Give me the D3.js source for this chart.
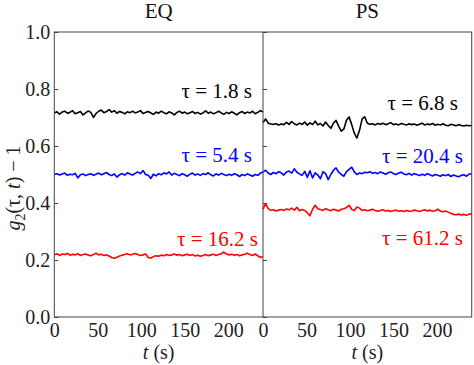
<!DOCTYPE html>
<html><head><meta charset="utf-8">
<script src="https://cdn.jsdelivr.net/npm/d3@7"></script>
<style>
body{margin:0;background:#fff;}
svg text{font-family:"Liberation Serif","Times New Roman",Times,"Nimbus Roman","DejaVu Serif","Noto Serif",serif !important;}
</style></head>
<body><svg id="c" width="474" height="365"></svg>
<script>
// ---- data ----
const panels = ["EQ", "PS"];
const xTicks = [0, 50, 100, 150, 200];
const yTicks = [0.0, 0.2, 0.4, 0.6, 0.8, 1.0];
const time = d3.range(0, 241, 3); // t (s), sample times

const eqBlack = [
0.716,0.720,0.712,0.719,0.722,0.715,0.718,0.724,0.713,0.717,
0.721,0.709,0.716,0.723,0.718,0.700,0.714,0.722,0.726,0.717,
0.721,0.728,0.719,0.724,0.715,0.721,0.718,0.713,0.720,0.717,
0.722,0.716,0.719,0.724,0.714,0.718,0.721,0.716,0.711,0.719,
0.715,0.722,0.717,0.713,0.720,0.716,0.709,0.718,0.722,0.715,
0.719,0.713,0.717,0.721,0.714,0.718,0.712,0.716,0.723,0.715,
0.719,0.713,0.717,0.722,0.716,0.711,0.718,0.714,0.720,0.715,
0.709,0.717,0.721,0.714,0.719,0.716,0.722,0.713,0.718,0.724,0.720];
const eqBlue = [
0.500,0.503,0.498,0.502,0.505,0.497,0.501,0.499,0.504,0.488,
0.499,0.502,0.496,0.500,0.503,0.497,0.501,0.505,0.499,0.503,
0.507,0.500,0.496,0.502,0.491,0.499,0.503,0.498,0.506,0.502,
0.498,0.504,0.509,0.503,0.514,0.500,0.497,0.486,0.501,0.495,
0.503,0.499,0.506,0.502,0.509,0.498,0.504,0.500,0.496,0.503,
0.499,0.494,0.501,0.505,0.498,0.502,0.497,0.503,0.500,0.506,
0.499,0.495,0.502,0.498,0.504,0.500,0.496,0.501,0.497,0.503,
0.499,0.493,0.500,0.496,0.502,0.498,0.494,0.500,0.497,0.505,0.508];
const eqRed = [
0.218,0.222,0.216,0.221,0.219,0.223,0.217,0.220,0.218,0.222,
0.216,0.219,0.221,0.217,0.215,0.219,0.224,0.218,0.220,0.216,
0.218,0.214,0.209,0.206,0.210,0.214,0.217,0.219,0.222,0.218,
0.220,0.223,0.219,0.216,0.218,0.221,0.209,0.207,0.212,0.215,
0.213,0.217,0.215,0.219,0.216,0.218,0.221,0.217,0.219,0.215,
0.218,0.220,0.216,0.219,0.214,0.217,0.213,0.216,0.219,0.215,
0.218,0.220,0.216,0.219,0.222,0.228,0.221,0.218,0.220,0.217,
0.219,0.215,0.218,0.220,0.224,0.219,0.216,0.221,0.215,0.209,0.212];
const psBlack = [
0.682,0.695,0.680,0.677,0.676,0.678,0.674,0.677,0.675,0.683,
0.676,0.686,0.678,0.674,0.680,0.676,0.684,0.673,0.681,0.675,
0.687,0.674,0.679,0.670,0.684,0.672,0.662,0.680,0.690,0.670,
0.652,0.660,0.690,0.702,0.675,0.645,0.628,0.655,0.695,0.702,
0.680,0.676,0.678,0.674,0.679,0.676,0.680,0.675,0.678,0.682,
0.675,0.677,0.674,0.679,0.676,0.674,0.678,0.675,0.677,0.673,
0.676,0.680,0.674,0.677,0.675,0.679,0.673,0.676,0.674,0.678,
0.673,0.671,0.676,0.674,0.671,0.675,0.672,0.670,0.673,0.671,0.672];
const psBlue = [
0.508,0.515,0.505,0.500,0.507,0.503,0.510,0.506,0.498,0.509,
0.512,0.505,0.520,0.508,0.502,0.497,0.511,0.490,0.513,0.488,
0.506,0.498,0.485,0.510,0.503,0.482,0.500,0.515,0.523,0.508,
0.500,0.494,0.510,0.518,0.526,0.509,0.500,0.505,0.503,0.508,
0.506,0.510,0.504,0.507,0.503,0.509,0.505,0.501,0.506,0.509,
0.503,0.500,0.505,0.508,0.502,0.499,0.504,0.498,0.503,0.500,
0.496,0.501,0.497,0.503,0.499,0.495,0.500,0.497,0.494,0.499,
0.496,0.500,0.493,0.498,0.495,0.492,0.497,0.499,0.494,0.501,0.503];
const psRed = [
0.378,0.398,0.380,0.374,0.376,0.372,0.375,0.377,0.374,0.379,
0.376,0.382,0.375,0.385,0.373,0.377,0.374,0.366,0.355,0.378,
0.392,0.380,0.377,0.374,0.380,0.376,0.373,0.378,0.375,0.372,
0.378,0.380,0.384,0.392,0.378,0.374,0.386,0.382,0.374,0.376,
0.373,0.375,0.378,0.374,0.371,0.374,0.376,0.372,0.374,0.370,
0.373,0.375,0.371,0.373,0.370,0.374,0.371,0.372,0.375,0.373,
0.370,0.374,0.376,0.372,0.375,0.371,0.373,0.378,0.372,0.369,
0.372,0.368,0.364,0.360,0.359,0.361,0.358,0.360,0.357,0.361,0.362];

const seriesEQ = [
  {vals: eqBlack, color: "#000000", label: "τ = 1.8 s"},
  {vals: eqBlue,  color: "#0000ff", label: "τ = 5.4 s"},
  {vals: eqRed,   color: "#ff0000", label: "τ = 16.2 s"}];
const seriesPS = [
  {vals: psBlack, color: "#000000", label: "τ = 6.8 s"},
  {vals: psBlue,  color: "#0000ff", label: "τ = 20.4 s"},
  {vals: psRed,   color: "#ff0000", label: "τ = 61.2 s"}];

// ---- layout ----
const FONT = '"Liberation Serif","Times New Roman",Times,"Nimbus Roman","DejaVu Serif","Noto Serif",serif';
const svg = d3.select("#c").attr("font-family", FONT);
const plotTop = 32, plotBottom = 317;
const panelX = [[54.3, 263], [263, 471.7]];
const y = d3.scaleLinear().domain([0, 1]).range([plotBottom, plotTop]);
const labelPos = [
  [{x:252, y:98}, {x:252, y:162}, {x:258, y:246}],
  [{x:458, y:110}, {x:463, y:163}, {x:463, y:245}]];

[seriesEQ, seriesPS].forEach((series, pi) => {
  const [x0, x1] = panelX[pi];
  const x = d3.scaleLinear().domain([0, 240]).range([x0, x1]);
  const g = svg.append("g");

  // x axis
  const xa = g.append("g").attr("transform", `translate(0,${plotBottom})`)
    .call(d3.axisBottom(x).tickValues(xTicks).tickSizeInner(0).tickSizeOuter(0).tickPadding(6));
  xa.attr("font-family", FONT).attr("font-size", 20);
  xa.select(".domain").remove();
  xa.selectAll("text").attr("fill", "#222");

  // y axis (inward ticks)
  const ya = g.append("g").attr("transform", `translate(${x0},0)`)
    .call(d3.axisLeft(y).tickValues(yTicks).tickSizeInner(-4).tickSizeOuter(0)
      .tickPadding(pi === 0 ? 4 : 0).tickFormat(pi === 0 ? d3.format(".1f") : () => ""));
  ya.attr("font-family", FONT).attr("font-size", 20);
  ya.select(".domain").remove();
  ya.selectAll("line").attr("stroke", "#444");
  ya.selectAll("text").attr("fill", "#222");

  // lines
  const line = d3.line().x((d, i) => x(time[i])).y(d => y(d));
  series.forEach((s, si) => {
    g.append("path").datum(s.vals).attr("d", line)
      .attr("fill", "none").attr("stroke", s.color).attr("stroke-width", 1.6)
      .attr("stroke-linejoin", "round");
    g.append("text").attr("x", labelPos[pi][si].x).attr("y", labelPos[pi][si].y)
      .attr("text-anchor", "end").attr("font-size", 21).attr("fill", s.color)
      .text(s.label);
  });

  // title
  g.append("text").attr("x", (x0 + x1) / 2).attr("y", 18).attr("text-anchor", "middle")
    .attr("font-size", 21).attr("fill", "#111").text(panels[pi]);

  // x label
  const xl = g.append("text").attr("x", (x0 + x1) / 2).attr("y", 359)
    .attr("text-anchor", "middle").attr("font-size", 20).attr("fill", "#222");
  xl.append("tspan").attr("font-style", "italic").text("t");
  xl.append("tspan").text(" (s)");
});

// frame
const frame = svg.append("g").attr("fill", "none").attr("stroke", "#444").attr("stroke-width", 1);
frame.append("rect").attr("x", panelX[0][0]).attr("y", plotTop)
  .attr("width", panelX[1][1] - panelX[0][0]).attr("height", plotBottom - plotTop);
frame.append("line").attr("x1", panelX[0][1]).attr("x2", panelX[0][1]).attr("y1", plotTop).attr("y2", plotBottom);

// y label
const yl = svg.append("text").attr("transform", "translate(20,188) rotate(-90)")
  .attr("text-anchor", "middle").attr("font-size", 20).attr("fill", "#222");
yl.append("tspan").attr("font-style", "italic").text("g");
yl.append("tspan").attr("font-size", 14).attr("dy", 5).text("2");
yl.append("tspan").attr("dy", -5).text("(τ, ");
yl.append("tspan").attr("font-style", "italic").text("t");
yl.append("tspan").text(") − 1");
</script></body></html>
